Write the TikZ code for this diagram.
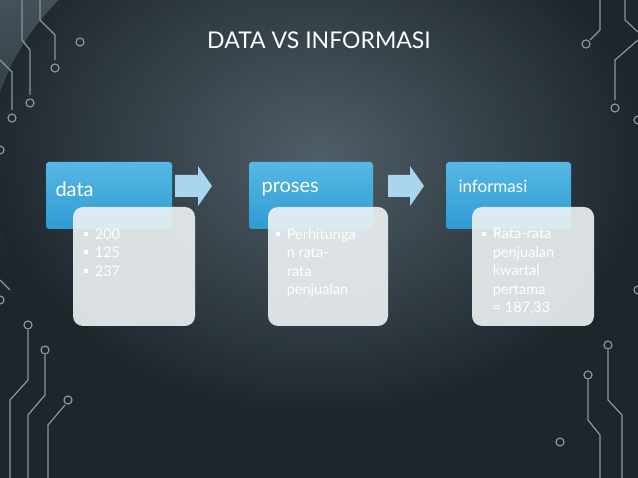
\documentclass[tikz,border=0pt]{standalone}
\usepackage{fontspec}
\setmainfont{Lato}
\definecolor{bgd}{HTML}{1E262C}
\definecolor{bgl}{HTML}{55656E}
\definecolor{bluea}{HTML}{2E9BD2}
\definecolor{blueb}{HTML}{57B8E4}
\definecolor{circ}{HTML}{8A969C}
\definecolor{arrc}{HTML}{A9D6EE}
\definecolor{bodyc}{HTML}{EEF3F5}
\tikzset{
  head/.style={rounded corners=3pt, top color=blueb, bottom color=bluea, draw=none},
  body/.style={rounded corners=10pt, fill=bodyc, fill opacity=0.9, draw=none},
  htext/.style={text=white, font=\fontsize{20}{24}\selectfont, anchor=west},
  btext/.style={text=white, font=\fontsize{14.5}{18.5}\selectfont, anchor=north west, align=left},
  arr/.style={fill=arrc, draw=none},
  ckt/.style={draw=circ, line width=1.2pt},
}
\newcommand{\bul}{\raisebox{0.45ex}{\rule{0.28em}{0.28em}}\hspace{0.5em}}
\newcommand{\nob}{\hspace{0.78em}}
\begin{document}
\begin{tikzpicture}[x=1pt,y=-1pt]
\useasboundingbox (0,0) rectangle (638,478);
\fill[bgd] (0,0) rectangle (638,478);
\shade[inner color=bgl, outer color=bgd] (0,-120) ellipse (420 and 380);
\begin{scope}[shift={(319,0)}]
\shade[inner color=bgl, outer color=bgd, opacity=0.9] (0,160) ellipse (330 and 260);
\end{scope}
% circuit decorations
\draw[ckt] (0,60) -- (12,72) -- (12,110); \draw[ckt] (12,118) circle (4);
\draw[ckt] (22,0) -- (22,40) -- (30,50) -- (30,95); \draw[ckt] (30,103) circle (4);
\draw[ckt] (40,0) -- (40,20) -- (55,35) -- (55,60); \draw[ckt] (55,68) circle (4);
\draw[ckt] (0,150) circle (4);
\draw[ckt] (0,280) -- (10,290); \draw[ckt] (0,300) circle (4);
\draw[ckt] (28,330) -- (28,380) -- (10,400) -- (10,478);
\draw[ckt] (28,325) circle (4);
\draw[ckt] (45,355) -- (45,395) -- (28,415) -- (28,478); \draw[ckt] (45,350) circle (4);
\draw[ckt] (65,405) -- (48,425) -- (48,478); \draw[ckt] (68,400) circle (4);
\draw[ckt] (80,42) circle (4);
\draw[ckt] (638,40) -- (615,60) -- (615,100); \draw[ckt] (615,108) circle (4);
\draw[ckt] (600,0) -- (600,30) -- (590,40); \draw[ckt] (586,44) circle (4);
\draw[ckt] (638,120) circle (4);
\draw[ckt] (625,0) -- (625,20) -- (638,32);
\draw[ckt] (608,350) -- (608,400) -- (622,415) -- (622,478); \draw[ckt] (608,345) circle (4);
\draw[ckt] (588,380) -- (588,420) -- (600,435) -- (600,478); \draw[ckt] (588,375) circle (4);
\draw[ckt] (638,290) circle (4);
\draw[ckt] (560,442) circle (4);
% title
\node[text=white, font=\fontsize{23}{27}\selectfont] (title) at (319,40) {DATA VS INFORMASI};
% boxes
\path[head] (46,162) rectangle (172,229);
\path[head] (249,162) rectangle (373,229);
\path[head] (446,162) rectangle (571,229);
\node[htext] (h1) at (52,189) {data};
\node[htext] (h2) at (258,189) {proses};
\node[htext, font=\fontsize{17}{20}\selectfont] (h3) at (455,186) {informasi};
\path[body] (73,207) rectangle (195,326);
\path[body] (268,207) rectangle (388,326);
\path[body] (472,207) rectangle (594,326);
\node[btext] (b1) at (80,225) {\bul 200\\\bul 125\\\bul 237};
\node[btext] (b2) at (272,225) {\bul Perhitunga\\\nob n rata-\\\nob rata\\\nob penjualan};
\node[btext] (b3) at (478,225) {\bul Rata-rata\\\nob penjualan\\\nob kwartal\\\nob pertama\\\nob = 187,33};
% arrows
\fill[arr] (175,175) -- (198,175) -- (198,166) -- (212,186) -- (198,206) -- (198,197) -- (175,197) -- cycle;
\fill[arr] (388,175) -- (410,175) -- (410,166) -- (424,186) -- (410,206) -- (410,197) -- (388,197) -- cycle;
\end{tikzpicture}
\end{document}
